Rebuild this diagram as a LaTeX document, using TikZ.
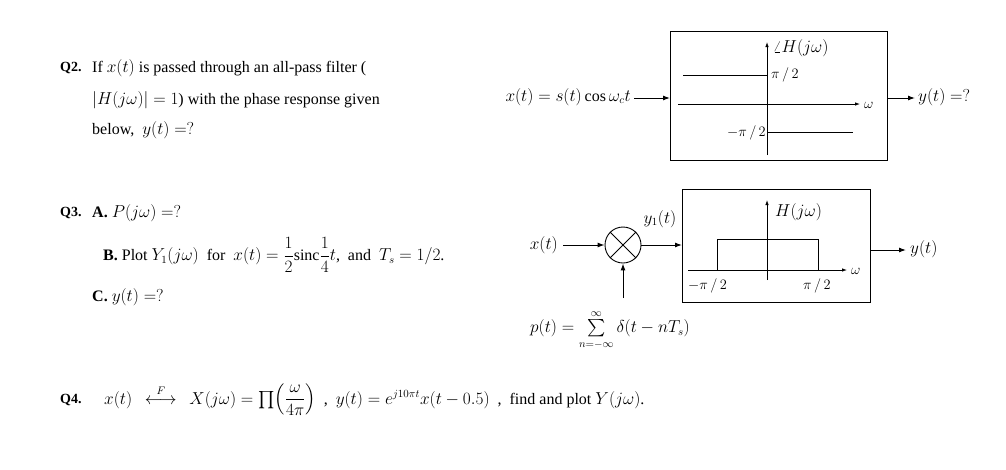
\documentclass[tikz,border=0pt]{standalone}
\usepackage{amsmath}
\usepackage{fontspec}
\setmainfont{Liberation Serif}
\usetikzlibrary{arrows.meta}
\begin{document}
\begin{tikzpicture}[x=1pt,y=-1pt,font=\fontsize{16}{18}\selectfont,
 txt/.style={anchor=west,inner sep=0pt},
 ql/.style={anchor=west,inner sep=0pt,font=\bfseries\fontsize{14}{16}\selectfont},
 arr/.style={-{Latex[length=7pt,width=5pt]},line width=1pt},
 ax/.style={-{Latex[length=5pt,width=3.5pt]},line width=0.8pt},
 box/.style={draw,line width=0.9pt}]
\useasboundingbox (0,0) rectangle (1006,469);
% Q2 text
\node[ql] (q2) at (60,68) {Q2.};
\node[txt] (q2a) at (92,68) {If $x(t)$ is passed through an all-pass filter (};
\node[txt] (q2b) at (92,100) {$\left|H(j\omega)\right|=1$) with the phase response given};
\node[txt] (q2c) at (92,130) {below,\ \ $y(t)=?$};
% Q2 diagram
\node[box,minimum width=217,minimum height=129,anchor=north west] (b2) at (670,31) {};
\coordinate (v2t) at (767,42); \coordinate (v2b) at (767,155);
\draw[ax] (v2b) -- (v2t);
\coordinate (h2l) at (678,104); \coordinate (h2r) at (860,104);
\draw[ax] (h2l) -- (h2r);
\node[txt,font=\fontsize{14}{16}\selectfont] (w2) at (864,105) {$\omega$};
\node[txt] (ph) at (773,48) {$\angle H(j\omega)$};
\draw[line width=0.7pt] (683,75) -- (767,75);
\draw[line width=0.7pt] (767,132) -- (853,132);
\node[txt,font=\fontsize{14}{16}\selectfont] (p2) at (771,75) {$\pi\,/\,2$};
\node[anchor=east,inner sep=1pt,font=\fontsize{14}{16}\selectfont] (m2) at (767,133) {$-\pi\,/\,2$};
\node[anchor=east,inner sep=0pt] (x2) at (631,97) {$x(t)=s(t)\cos\omega_c t$};
\draw[arr] (x2.east) ++(3,1) -- (b2.west |- 0,98);
\coordinate (o2) at (915,98);
\draw[arr] (b2.east |- 0,98) -- (o2);
\node[txt] (y2) at (918,97) {$y(t)=?$};
% Q3 text
\node[ql] (q3) at (60,213) {Q3.};
\node[txt] (q3a) at (92,213) {\textbf{A.} $P(j\omega)=?$};
\node[txt] (q3b) at (103,255) {\textbf{B.} Plot $Y_1(j\omega)$ \ for \ $x(t)=\dfrac{1}{2}\mathrm{sinc}\dfrac{1}{4}t$, \ and \ $T_s=1/2$.};
\node[txt] (q3c) at (92,297) {\textbf{C.} $y(t)=?$};
% Q3 diagram
\node[draw,circle,line width=0.9pt,minimum size=36,inner sep=0pt] (mul) at (623,245) {};
\draw[line width=0.9pt] (mul.north west) -- (mul.south east) (mul.north east) -- (mul.south west);
\node[anchor=east,inner sep=0pt] (x3) at (558,245) {$x(t)$};
\draw[arr] (x3.east) ++(5,0) -- (mul.west);
\node[box,minimum width=188,minimum height=113,anchor=north west] (b3) at (682,189) {};
\draw[arr] (mul.east) -- (b3.west |- mul.east);
\node[inner sep=0pt] (y1) at (660,219) {$y_1(t)$};
\coordinate (pin) at (623,298);
\draw[arr] (pin) -- (mul.south);
\node[inner sep=0pt] (pt) at (610,330) {$p(t)=\sum\limits_{n=-\infty}^{\infty}\delta(t-nT_s)$};
\draw[ax] (767,280) -- (767,200);
\draw[ax] (688,270) -- (847,270);
\draw[line width=0.7pt] (717,270) -- (717,239) -- (818,239) -- (818,270);
\node[txt] (h3) at (775,212) {$H(j\omega)$};
\node[txt,font=\fontsize{14}{16}\selectfont] (w3) at (851,271) {$\omega$};
\node[txt,font=\fontsize{14}{16}\selectfont] (m3) at (688,286) {$-\pi\,/\,2$};
\node[txt,font=\fontsize{14}{16}\selectfont] (p3) at (803,286) {$\pi\,/\,2$};
\coordinate (o3) at (906,250);
\draw[arr] (b3.east |- o3) -- (o3);
\node[txt] (y3) at (910,249) {$y(t)$};
% Q4
\node[ql] (q4) at (60,400) {Q4.};
\node[txt] (q4a) at (104,400) {$x(t)\ \ \overset{F}{\longleftrightarrow}\ \ X(j\omega)=\prod\!\left(\dfrac{\omega}{4\pi}\right)$\ \ ,\ \ $y(t)=e^{j10\pi t}x(t-0.5)$\ \ , \ find and plot $Y(j\omega)$.};
\end{tikzpicture}
\end{document}
